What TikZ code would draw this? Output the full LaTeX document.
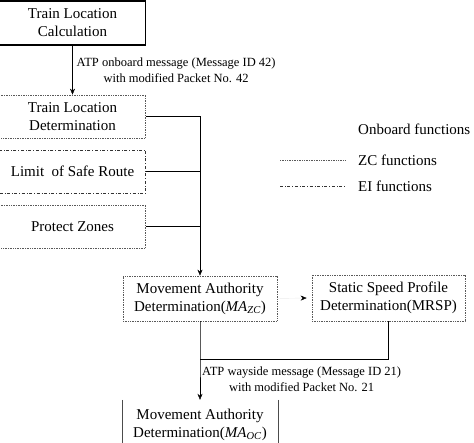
\documentclass[tikz,border=0pt]{standalone}
\usepackage{fontspec}
\setmainfont{Liberation Serif}
\usetikzlibrary{arrows.meta}
\usetikzlibrary{positioning}

\begin{document}
\begin{tikzpicture}[x=1pt, y=-1pt,
    every node/.style={font=\fontsize{15}{18}\selectfont, align=center, inner sep=0pt},
    onboard/.style={draw, line width=1.3pt},
    zcbox/.style={draw=black!65, densely dotted, line width=0.7pt},
    eibox/.style={draw=black!80, dash dot, line width=0.7pt},
    msg/.style={font=\fontsize{12.5}{16}\selectfont},
    tip/.style={-{Stealth[length=6pt, width=5pt]}}]
    \useasboundingbox (0,0) rectangle (474,443);

    % Left column of functions
    \node [onboard, minimum width=146pt, minimum height=44pt] (tlc) at (72.5,23) {Train Location\\Calculation};
    \node [zcbox, minimum width=146pt, minimum height=43pt] (tld) at (72.5,116.5) {Train Location\\Determination};
    \node [eibox, minimum width=146pt, minimum height=43pt] (lsr) at (72.5,171.5) {Limit\ \ of Safe Route};
    \node [zcbox, minimum width=146pt, minimum height=43pt] (pz) at (72.5,226.5) {Protect Zones};

    % Movement authority and speed profile
    \node [zcbox, minimum width=154pt, minimum height=45pt] (mazc) at (200,298.5) {Movement Authority\\Determination(\textit{MA}\textsubscript{\textit{ZC}})};
    \node [zcbox, minimum width=153pt, minimum height=46pt] (ssp) at (388.5,298) {Static Speed Profile\\Determination(MRSP)};
    \node [minimum width=155pt, minimum height=49pt] (maoc) at (200,424.5) {Movement Authority\\Determination(\textit{MA}\textsubscript{\textit{OC}})};
    \draw [black!70] (maoc.north west) -- (maoc.south west);
    \draw [black!70] (maoc.north east) -- (maoc.south east);

    % Onboard message
    \draw [tip] (tlc.south) -- (tld.north)
        node [midway, right=4pt, msg] (msg42) {ATP onboard message (Message ID 42)\\with modified Packet No. 42};

    % Inputs to MA_ZC
    \draw [tip] (tld.east) -| (mazc.north);
    \draw (lsr.east) -- (lsr.east -| mazc.north);
    \draw (pz.east) -- (pz.east -| mazc.north);
    \draw [black!8, -{Stealth[length=6pt, width=5pt, black]}] (mazc.east) -- ([xshift=-5pt]ssp.west);

    % Wayside message
    \coordinate (mrg) at (200,359);
    \draw (ssp.south) |- (mrg);
    \draw [tip] (mazc.south) -- (mrg) -- (maoc.north)
        node [midway, right=2pt, msg] (msg21) {ATP wayside message (Message ID 21)\\with modified Packet No. 21};

    % Legend
    \node [anchor=west] (lgon) at (358,129) {Onboard functions};
    \node [anchor=west] (lgzc) at (358,160) {ZC functions};
    \node [anchor=west] (lgei) at (358,186) {EI functions};
    \draw [zcbox] (280,160) -- ([xshift=-12pt]lgzc.west);
    \draw [eibox] (280,186) -- ([xshift=-12pt]lgei.west);
\end{tikzpicture}
\end{document}
